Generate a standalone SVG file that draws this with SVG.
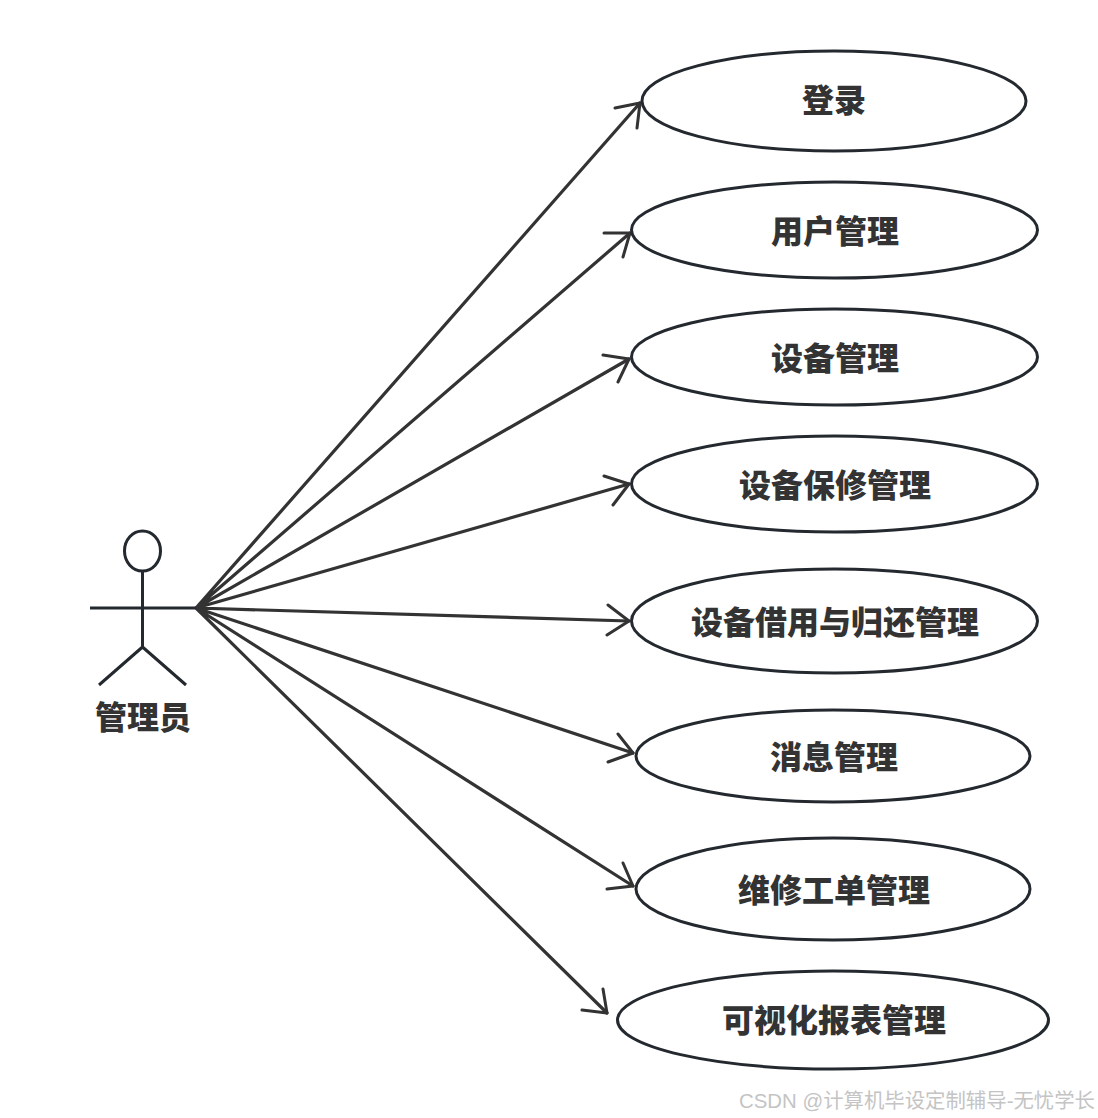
<svg xmlns="http://www.w3.org/2000/svg" width="1098" height="1118" viewBox="0 0 1098 1118">
<style>
.n{fill:#fff;stroke:#23292e;stroke-width:3}
.l{fill:none;stroke:#333;stroke-width:3.2;stroke-linecap:round}
.k{fill:none;stroke:#23292e;stroke-width:3}
.a{fill:none;stroke:#333;stroke-width:3;stroke-linecap:round;stroke-linejoin:round}
text{font-family:"Noto Sans CJK SC","Noto Sans CJK JP",sans-serif;font-weight:900;font-size:32px;fill:#333;text-anchor:middle}
.w{font-family:"Liberation Sans","Noto Sans CJK SC",sans-serif;font-weight:400;font-size:20.4px;fill:#c4c4c4;text-anchor:end}
</style>
<rect width="1098" height="1118" fill="#fff"/>
<g id="connectors">
<path class="l" d="M196 608L640 103M196 608L630 233M196 608L629 359M196 608L629 484M196 608L629 621M196 608L633 753M196 608L633 886M196 608L607 1013"/>
<path class="a" d="M615 108L640 103L637 128M604 233L630 233L623 257M603 355L629 359L618 382M604 476L629 484L613 505M608 605L629 621L607 635M618 734L633 753L608 762M623 863L633 886L607 889M582 1010L607 1013L603 989"/>
</g>
<g id="actor">
<ellipse class="k" cx="142.500" cy="551" rx="18" ry="20"/>
<path class="k" d="M142.500 571V647M90 608H196M142.500 647L99 685M142.500 647L186 685"/>
<text x="143" y="729">管理员</text>
</g>
<g id="n1"><ellipse class="n" cx="834" cy="101" rx="192" ry="50"/><text x="834" y="112">登录</text></g>
<g id="n2"><ellipse class="n" cx="834.500" cy="230" rx="203" ry="48"/><text x="835" y="243">用户管理</text></g>
<g id="n3"><ellipse class="n" cx="834.500" cy="357" rx="203" ry="48"/><text x="835" y="370">设备管理</text></g>
<g id="n4"><ellipse class="n" cx="834.500" cy="484" rx="203" ry="48"/><text x="835" y="497">设备保修管理</text></g>
<g id="n5"><ellipse class="n" cx="834.500" cy="621" rx="203" ry="52"/><text x="835" y="634">设备借用与归还管理</text></g>
<g id="n6"><ellipse class="n" cx="833" cy="756" rx="197" ry="46"/><text x="834" y="769">消息管理</text></g>
<g id="n7"><ellipse class="n" cx="833" cy="889" rx="197" ry="51"/><text x="834" y="902">维修工单管理</text></g>
<g id="n8"><ellipse class="n" cx="833" cy="1020" rx="215.500" ry="49"/><text x="834" y="1032">可视化报表管理</text></g>
<text class="w" x="1095" y="1108">CSDN @计算机毕设定制辅导-无忧学长</text>
</svg>
